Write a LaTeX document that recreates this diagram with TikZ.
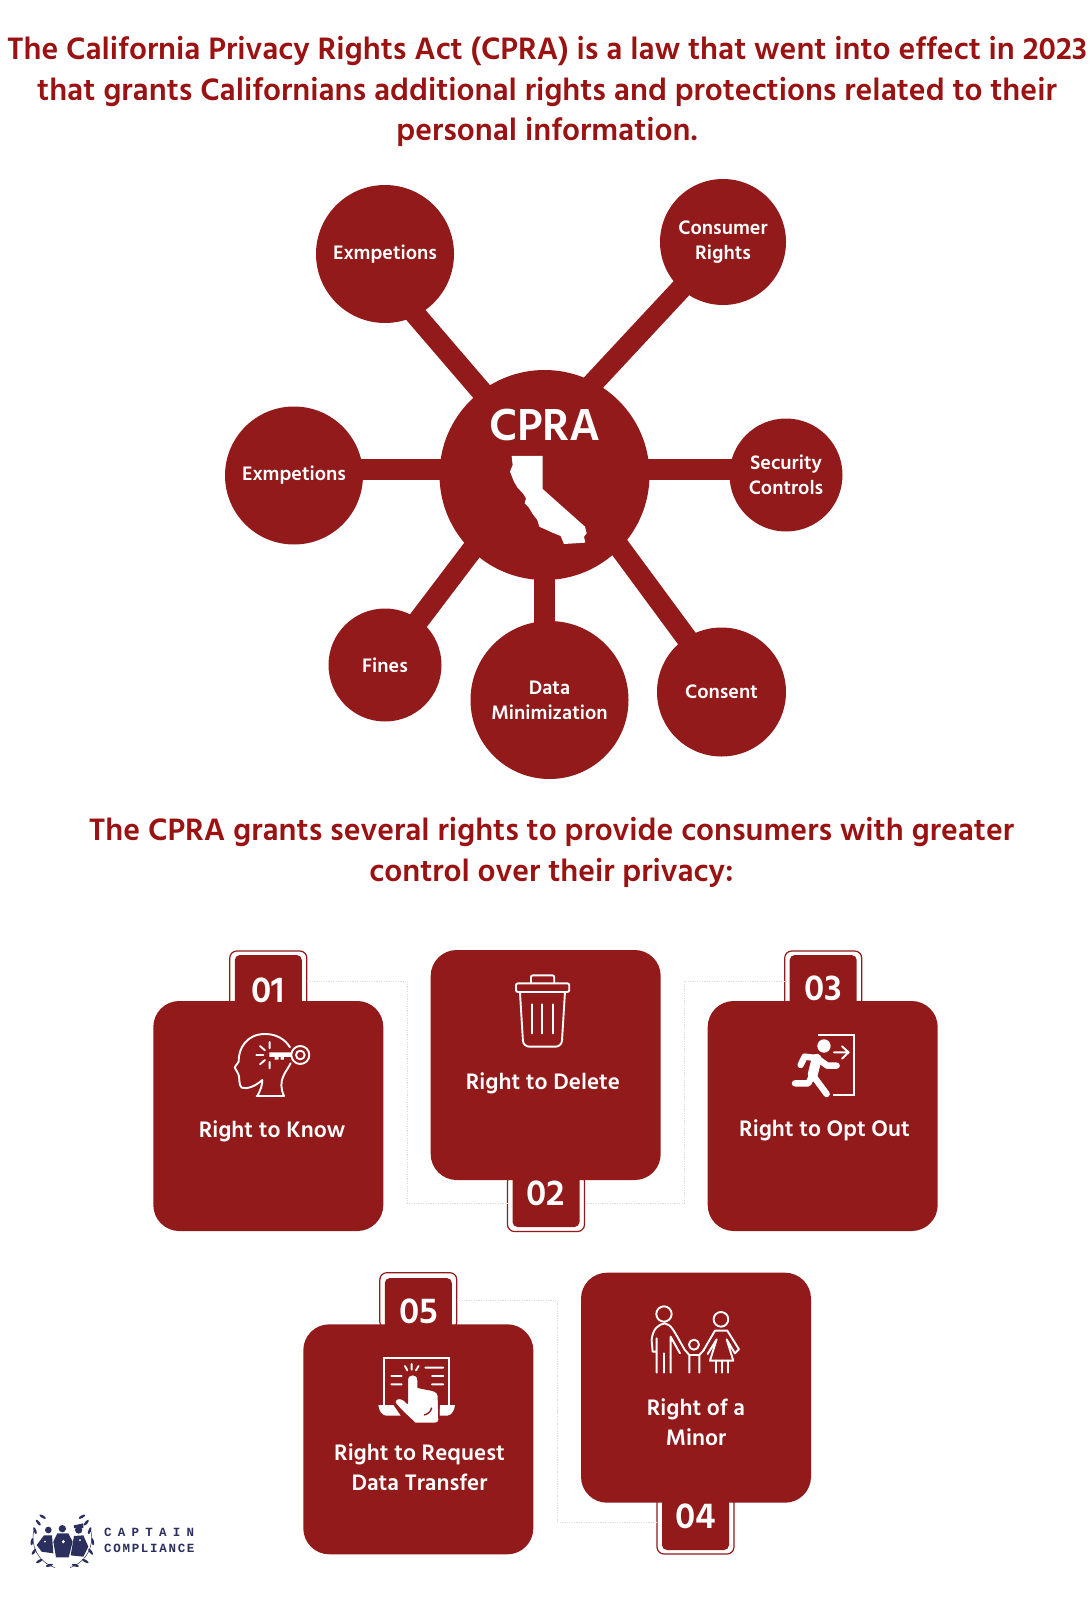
\documentclass[tikz,border=0pt]{standalone}
\usepackage{fontspec}
\setmainfont{Hind Madurai}[Script=Latin]
\newfontfamily\headfont{Hind Madurai}[Script=Latin]
\newfontfamily\logofont{Liberation Mono}
\newfontfamily\logowide{Liberation Mono}[LetterSpace=13.6]
\usetikzlibrary{calc,backgrounds}
\definecolor{cardred}{HTML}{921A1A}
\definecolor{headred}{HTML}{9A1212}
\definecolor{navy}{HTML}{2A2F5E}
\definecolor{dotgrey}{HTML}{DCDCDC}
\tikzset{
  hubc/.style={circle,fill=cardred,inner sep=0pt,outer sep=0pt,text=white,align=center,minimum size=#1,font=\headfont\bfseries\fontsize{20}{25}\selectfont},
  spoke/.style={draw=cardred,line width=21pt},
  headtext/.style={text=headred,align=center,inner sep=0pt,font=\headfont\bfseries\fontsize{31.8}{40.4}\selectfont},
  cardbox/.style={rectangle,rounded corners=26pt,fill=cardred,minimum width=230pt,minimum height=230pt,inner sep=0pt,outer sep=0pt},
  tabouter/.style={rectangle,rounded corners=7pt,draw=cardred,line width=1.2pt,fill=white,minimum width=77pt,inner sep=0pt,outer sep=0pt},
  tabinner/.style={rectangle,rounded corners=5pt,fill=cardred,minimum width=67pt,inner sep=0pt,outer sep=0pt},
  tabnum/.style={text=white,inner sep=0pt,font=\headfont\bfseries\fontsize{37}{37}\selectfont},
  cardtext/.style={text=white,align=center,inner sep=0pt,font=\headfont\bfseries\fontsize{23}{29.5}\selectfont},
  dotconn/.style={draw=dotgrey,line width=0.9pt,dash pattern=on 1.2pt off 1.2pt},
  iconline/.style={draw=white,line width=1.9pt,line cap=round,line join=round},
  runner/.style={draw=white,line width=6.4pt,line cap=round,line join=round},
  zoomA/.style={shift={(130pt,-920pt)},x=0.3333pt,y=-0.3333pt},
  zoomB/.style={shift={(540pt,-920pt)},x=0.3333pt,y=-0.3333pt},
  zoomC/.style={shift={(350pt,-1240pt)},x=0.3333pt,y=-0.3333pt},
  zoomD/.style={shift={(20pt,-1500pt)},x=0.3333pt,y=-0.3333pt},
  zoomE/.style={shift={(430pt,-370pt)},x=0.3333pt,y=-0.3333pt},
}
\begin{document}
\begin{tikzpicture}[x=1pt,y=-1pt]
\useasboundingbox (0,0) rectangle (1091,1600);
% headings
\node[headtext] (title) at (547,91.5) {The California Privacy Rights Act (CPRA) is a law that went into effect in 2023\\that grants Californians additional rights and protections related to their\\personal information.};
\node[headtext] (sub) at (551.5,852.5) {The CPRA grants several rights to provide consumers with greater\\control over their privacy:};
% hub
\node[hubc=210pt] (hub) at (544.5,475) {};
\node[hubc=138pt] (c1) at (385,254) {Exmpetions};
\node[hubc=126pt] (c2) at (723,242) {Consumer\\Rights};
\node[hubc=138pt] (c3) at (294,475.5) {Exmpetions};
\node[hubc=113pt] (c4) at (786,475) {Security\\Controls};
\node[hubc=113pt] (c5) at (385,665) {Fines};
\node[hubc=158pt] (c6) at (549.5,700) {Data\\Minimization};
\node[hubc=129pt] (c7) at (721.5,692) {Consent};
\coordinate (spokeY) at (0,469);
\coordinate (spokeX) at (544.5,0);
\begin{scope}[on background layer]
\fill[white] (0,0) rectangle (1091,1600);
\draw[spoke,shorten <=-5pt,shorten >=-5pt] (hub.127.7) -- (c1.297.3);
\draw[spoke,shorten <=-5pt,shorten >=-5pt] (hub.62.2) -- (c2.228.6);
\draw[spoke] (hub |- spokeY) -- (c3 |- spokeY);
\draw[spoke] (hub |- spokeY) -- (c4 |- spokeY);
\draw[spoke] (spokeX |- hub) -- (spokeX |- c6);
\draw[spoke,shorten <=-5pt,shorten >=-5pt] (hub.226.2) -- (c5.53.7);
\draw[spoke,shorten <=-5pt,shorten >=-5pt] (hub.316.7) -- (c7.123.6);
\end{scope}
\node[text=white,inner sep=0pt,font=\headfont\bfseries\fontsize{46}{46}\selectfont] (cpra) at (545,425) {CPRA};
% California
\begin{scope}[zoomE]
\fill[white] (245,258)--(338,258)--(338,357)--(465,470)--(470,490)--(462,500)--(466,518)--(402,522)--(392,498)--(372,490)--(350,480)--(328,470)--(322,450)--(308,432)--(296,412)--(284,400)--(288,385)--(280,372)--(262,352)--(252,335)--(240,305)--(248,285)--cycle;
\end{scope}
% connectors
\node[tabouter,minimum height=60pt] (t1) at (268.3,981) {};
\node[tabouter,minimum height=57pt] (t2) at (546,1203) {};
\node[tabouter,minimum height=60pt] (t3) at (823.2,981) {};
\node[tabouter,minimum height=56pt] (t5) at (418.3,1300.7) {};
\node[tabouter,minimum height=64pt] (t4) at (695.5,1522) {};
\coordinate (j12) at (407,1090);
\coordinate (j23) at (684,1090);
\coordinate (j45) at (557.3,1410);
\draw[dotconn] (t1.east) -| (j12) |- (t2.west);
\draw[dotconn] (t3.west) -| (j23) |- (t2.east);
\draw[dotconn] (t5.east) -| (j45) |- (t4.west);
% tab interiors
\node[tabinner,minimum height=60pt] at (268.3,985) {};
\node[tabinner,minimum height=60pt] at (546,1197) {};
\node[tabinner,minimum height=60pt] at (823.2,985) {};
\node[tabinner,minimum height=60pt] at (418.3,1308) {};
\node[tabinner,minimum height=60pt] at (695.5,1520) {};
% cards
\node[cardbox] (k1) at (268.3,1116) {};
\node[cardbox] (k2) at (545.7,1065) {};
\node[cardbox] (k3) at (822.7,1116) {};
\node[cardbox] (k5) at (418.3,1439.3) {};
\node[cardbox] (k4) at (696,1387.7) {};
% numbers
\node[tabnum] (n1) at (268.5,990.5) {01};
\node[tabnum] (n2) at (546,1193.5) {02};
\node[tabnum] (n3) at (823.5,988.5) {03};
\node[tabnum] (n5) at (418.5,1311.5) {05};
\node[tabnum] (n4) at (695.7,1516) {04};
% card labels
\node[cardtext] (l1) at (272,1131.5) {Right to Know};
\node[cardtext] (l2) at (543,1083) {Right to Delete};
\node[cardtext] (l3) at (824.5,1130) {Right to Opt Out};
\node[cardtext] (l5) at (419.5,1467) {Right to Request\\Data Transfer};
\node[cardtext] (l4) at (696,1422) {Right of a\\Minor};
% icon: head and key
\begin{scope}[zoomA]
\draw[iconline] (462,528)--(380,528) (382,528)..controls (392,510) and (397,495) .. (397,480)
 .. controls (375,500) and (350,508) .. (335,503) .. controls (325,495) and (330,470) .. (325,462)
 -- (314,442) -- (326,425) .. controls (325,385) and (350,342) .. (405,342) .. controls (440,342) and (465,358) .. (480,382);
\draw[iconline] (482,430) .. controls (470,455) and (440,480) .. (462,528);
\draw[iconline] (511,405) circle (27) (511,405) circle (13);
\fill[white] (418,397)--(486,397)--(486,411)--(462,411)--(462,419)--(452,419)--(452,411)--(446,411)--(446,419)--(434,419)--(434,411)--(418,411)--cycle;
\draw[iconline] (379,405)--(400,405) (390,378)--(405,391) (419,366)--(419,385) (390,433)--(405,420) (419,426)--(419,445);
\end{scope}
% icon: bin
\begin{scope}[zoomA]
\draw[iconline,rounded corners=2pt] (1158,190)--(1318,190)--(1318,216)--(1158,216)--cycle;
\draw[iconline,rounded corners=2pt] (1203,188)--(1203,166)--(1273,166)--(1273,188);
\draw[iconline,rounded corners=6pt] (1170,217)--(1180,380)--(1295,380)--(1305,217);
\draw[iconline] (1205,253)--(1205,340) (1237,253)--(1237,340) (1268,253)--(1268,340);
\end{scope}
% icon: exit
\begin{scope}[zoomB]
\draw[iconline,line cap=butt,line join=miter] (835,345)--(943,345)--(943,525)--(878,525);
\fill[white] (852,378) circle (20);
\draw[iconline] (882,397)--(925,397) (906,379)--(926,397)--(906,416);
\draw[runner] (830,414)--(862,437)--(890,437) (830,414)--(794,410)--(782,435) (818,465)--(860,522) (818,465)--(805,490)--(765,490);
\draw[runner,line width=10pt] (830,416)--(818,465);
\end{scope}
% icon: family
\begin{scope}[zoomC]
\draw[iconline] (942,222) circle (23) (1113,238) circle (22) (1032,314) circle (15);
\draw[iconline] (920,398)--(920,295) (908,335)--(905,300) .. controls (908,268) and (925,252) .. (945,250) .. controls (965,255) and (970,270) .. (1003,327) (908,335)--(918,335);
\draw[iconline] (942,398)--(942,340) (962,398)--(962,290) (962,290)--(990,340);
\draw[iconline] (1003,328)--(1018,345)--(1048,345)--(1062,330) (1018,345)--(1018,398) (1048,345)--(1048,398);
\draw[iconline] (1060,332)--(1095,272)--(1132,272)--(1167,328)--(1155,340)--(1130,298)--(1150,362)--(1080,362)--(1100,298)--(1073,342);
\draw[iconline] (1098,362)--(1098,398) (1115,362)--(1115,398) (1133,362)--(1133,398);
\end{scope}
% icon: screen and hand
\begin{scope}[zoomC]
\draw[iconline,line cap=butt,line join=miter] (102,495)--(102,353)--(298,353)--(298,495);
\draw[iconline] (124,408)--(155,408) (124,433)--(155,433) (226,383)--(280,383) (246,408)--(280,408) (246,433)--(280,433) (165,378)--(172,391) (185,372)--(185,389) (206,378)--(198,391);
\fill[white] (85,495)--(130,495)--(152,527)--(108,527) .. controls (95,525) and (87,512) .. (85,495) --cycle;
\fill[white] (315,495)--(270,495)--(268,527)--(292,527) .. controls (305,525) and (313,512) .. (315,495) --cycle;
\draw[cardred,line width=1.4pt,fill=white,line join=round] (172,490)--(172,420) .. controls (172,398) and (204,398) .. (204,420) -- (204,442) -- (232,448) .. controls (250,450) and (265,455) .. (265,468) -- (267,540) .. controls (267,548) and (262,550) .. (255,550) -- (195,550) .. controls (175,530) and (150,510) .. (134,487) .. controls (136,472) and (155,468) .. (172,490) -- cycle;
\draw[cardred,line width=1.4pt] (245,503) .. controls (243,515) and (233,523) .. (222,525);
\end{scope}
% logo
\begin{scope}[zoomD]
\fill[navy] (85,90) circle (10) (127,86) circle (11) (176,90) circle (11);
\fill[navy] (50,135) -- (72,106) -- (96,106) -- (100,160) -- (65,155) -- cycle;
\fill[navy] (100,125) -- (112,100) -- (145,100) -- (158,125) -- (146,172) -- (108,172) -- cycle;
\fill[navy] (162,108) -- (190,106) -- (205,140) -- (190,170) -- (152,166) -- cycle;
\fill[navy] (162,76) -- (190,70) -- (190,84) -- (162,84) -- cycle;
\fill[white] (130,125) circle (5) (180,120) circle (3) (75,125) circle (3);
\draw[navy,line width=0.5pt] (42,90) .. controls (30,140) and (55,185) .. (105,203) (212,90) .. controls (224,140) and (199,185) .. (150,203);
\foreach \a/\b/\r in {68/50/-30,55/68/-50,45/92/-70,36/125/-100,42/155/-125,58/183/-150,88/196/-165}{
  \fill[navy,rotate around={\r:(\a,\b)}] (\a,\b) ellipse (11 and 4);
  \pgfmathsetmacro{\mx}{254-\a}
  \fill[navy,rotate around={-\r:(\mx,\b)}] (\mx,\b) ellipse (11 and 4);
}
\end{scope}
\node[text=navy,inner sep=0pt,font=\logofont\fontsize{12.5}{12.5}\selectfont\bfseries,anchor=west] (lg1) at (104,1532) {C\,\,\,A\,\,\,P\,\,\,T\,\,\,A\,\,\,I\,\,\,N};
\node[text=navy,inner sep=0pt,font=\logowide\fontsize{12.5}{12.5}\selectfont\bfseries,anchor=west] (lg2) at (104,1548.7) {COMPLIANCE};
\end{tikzpicture}
\end{document}
